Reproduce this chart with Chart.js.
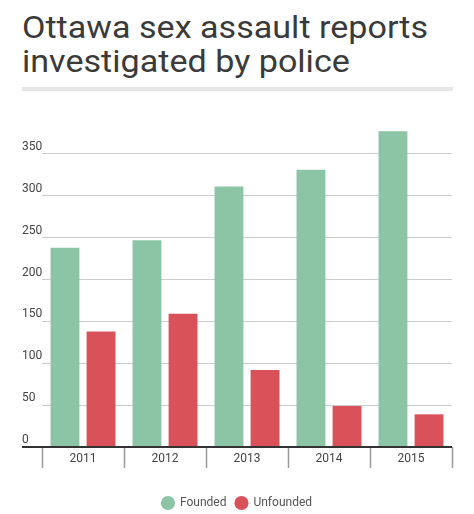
<!DOCTYPE html>
<html>
<head>
<meta charset="utf-8">
<script src="https://cdn.jsdelivr.net/npm/chart.js@4/dist/chart.umd.min.js"></script>
<style>
  html, body { margin: 0; padding: 0; background: #fff; overflow: hidden; }
  body { width: 474px; height: 514px; position: relative; font-family: Roboto, sans-serif; }
  .title {
    position: absolute; left: 22px; top: 11px; white-space: nowrap;
    font-size: 31px; line-height: 33.5px; color: #3a3a3a; font-weight: 400;
    transform: scaleX(1.1); transform-origin: left top;
  }
  .rule { position: absolute; left: 22px; top: 87px; width: 431px; height: 4px; background: #e6e6e6; }
  .wrap { position: absolute; left: 0; top: 90px; width: 474px; height: 430px; }
</style>
</head>
<body>
<div class="title">Ottawa sex assault reports<br>investigated by police</div>
<div class="rule"></div>
<div class="wrap"><canvas id="chart"></canvas></div>
<script>
// data
const years = ['2011', '2012', '2013', '2014', '2015'];
const founded = [238, 247, 311, 331, 377];
const unfounded = [138, 159, 92, 49, 39];
const yTicks = [0, 50, 100, 150, 200, 250, 300, 350];

const GREEN = '#8cc4a6';
const RED = '#d9525a';
const GRID = '#cccccc';
const AXIS = '#333333';

new Chart(document.getElementById('chart').getContext('2d'), {
    type: 'bar',
    data: {
        labels: years,
        datasets: [
            { label: 'Founded', data: founded, backgroundColor: GREEN, borderWidth: 0 },
            { label: 'Unfounded', data: unfounded, backgroundColor: RED, borderWidth: 0 }
        ]
    },
    options: {
        responsive: true,
        maintainAspectRatio: false,
        animation: false,
        categoryPercentage: 0.88,
        barPercentage: 0.8,
        layout: { padding: { left: 22, right: 22, top: 22, bottom: 1 } },
        plugins: {
            tooltip: { enabled: false },
            legend: {
                position: 'bottom',
                labels: {
                    usePointStyle: true,
                    pointStyle: 'circle',
                    boxHeight: 10,
                    padding: 9,
                    color: '#555',
                    font: { size: 12, family: 'Roboto' }
                }
            }
        },
        scales: {
            x: {
                grid: {
                    drawOnChartArea: false,
                    drawTicks: true,
                    tickLength: 21,
                    tickColor: '#999',
                    tickWidth: 1.5
                },
                border: { display: false },
                ticks: {
                    padding: -16,
                    color: '#444',
                    font: { size: 12, family: 'Roboto' }
                },
                afterFit(scale) { scale.height = 41; }
            },
            y: {
                min: 0,
                max: 400,
                afterBuildTicks(scale) {
                    scale.ticks = yTicks.concat([400]).map(v => ({ value: v }));
                },
                grid: {
                    color: ctx => ctx.tick.value === 400 ? 'transparent' : (ctx.tick.value === 0 ? AXIS : GRID),
                    lineWidth: ctx => ctx.tick.value === 0 ? 2 : 1,
                    tickLength: 20,
                    tickColor: ctx => ctx.tick.value === 0 ? AXIS : 'transparent',
                    tickWidth: 2
                },
                border: { display: false },
                ticks: {
                    crossAlign: 'far',
                    labelOffset: -7,
                    color: '#444',
                    font: { size: 12, family: 'Roboto' },
                    callback: v => v === 400 ? '' : v
                },
                afterFit(scale) { scale.width = 20; }
            }
        }
    }
});
</script>
</body>
</html>
